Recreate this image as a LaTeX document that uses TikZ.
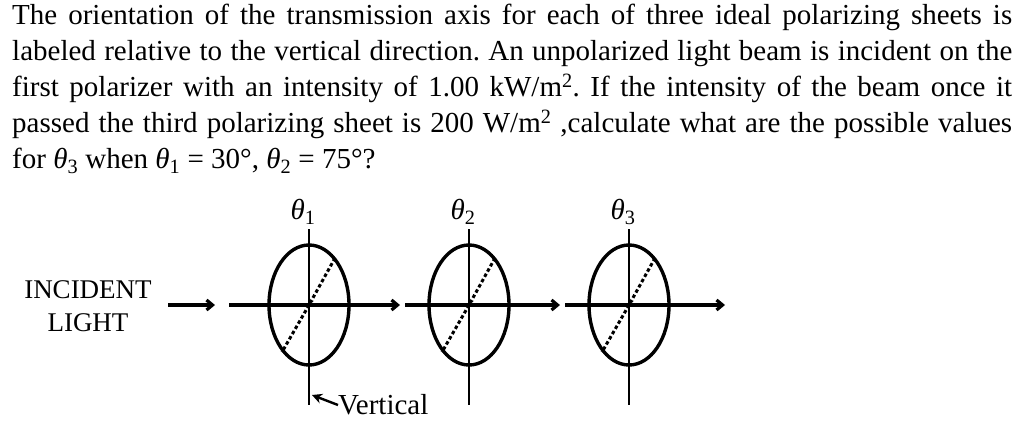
\documentclass[tikz,border=0pt]{standalone}
\usepackage{fontspec}
\setmainfont{Liberation Serif}
\usetikzlibrary{arrows.meta}
\newcommand{\thx}[1]{\textit{θ}\textsubscript{#1}}
\begin{document}
\frenchspacing
\begin{tikzpicture}[x=1pt,y=-1pt,
  ax/.style={line width=2pt},
  pol/.style={line width=3.4pt},
  fr/.style={line width=3.2pt,-{Straight Barb[length=6pt,width=10pt]}},
  da/.style={line width=3pt,dash pattern=on 3.5pt off 2.5pt},
  lbl/.style={font=\fontsize{29}{32}\selectfont,inner sep=0pt}]
\useasboundingbox (0,0) rectangle (1024,437);
\node[anchor=north west,inner sep=0pt,text width=1000pt,align=justify,font=\fontsize{29}{36}\selectfont] (txt) at (12,4)
{The orientation of the transmission axis for each of three ideal polarizing sheets is\linebreak
labeled relative to the vertical direction. An unpolarized light beam is incident on the\linebreak
first polarizer with an intensity of 1.00 kW/m\textsuperscript{2}. If the intensity of the beam once it\linebreak
passed the third polarizing sheet is 200 W/m\textsuperscript{2} ,calculate what are the possible values\linebreak
for \thx{3} when \thx{1} = 30°, \thx{2} = 75°?};
\foreach \i/\cx in {1/309,2/469,3/629}{
  \node[lbl] (t\i) at (\cx-6,212) {\thx{\i}};
  \draw[pol] (\cx,305) ellipse [x radius=40,y radius=60];
  \coordinate (c\i) at (\cx,305);
  \coordinate (up\i) at (\cx+26,258);
  \coordinate (lo\i) at (\cx-27,352);
  \draw[ax] (\cx,229) -- (\cx,405);
  \draw[da,-{Stealth[length=6pt]}] (up\i) -- (c\i);
  \draw[da] (c\i) -- (lo\i);
}
\draw[pol] (229,305) -- (c1);
\coordinate (a0s) at (168,305); \coordinate (a0e) at (215,305);
\draw[fr] (a0s) -- (a0e);
\draw[fr] (c1) -- (400,305);
\draw[pol] (405,305) -- (c2);
\draw[fr] (c2) -- (560,305);
\draw[pol] (565,305) -- (c3);
\draw[fr] (c3) -- (725,305);
\node[lbl,align=center,font=\fontsize{27}{33}\selectfont] (inc) at (88,306) {INCIDENT\\LIGHT};
\node[lbl,anchor=west] (vert) at (338,405) {Vertical};
\coordinate (vb) at (312,395);
\draw[line width=2.4pt,-{Stealth[length=10pt,width=10pt]}] (vert.west) -- (vb);
\end{tikzpicture}
\end{document}
